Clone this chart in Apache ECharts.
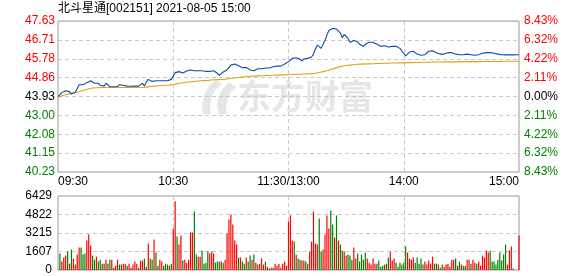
<!DOCTYPE html>
<html>
<head>
<meta charset="utf-8">
<script src="https://cdn.jsdelivr.net/npm/echarts@6/dist/echarts.min.js"></script>
<style>html,body{margin:0;padding:0;background:#fff}#c{width:578px;height:276px}</style>
</head>
<body>
<div id="c"></div>
<script>
// ---- data ----
const titleText = '北斗星通[002151] 2021-08-05 15:00';
const preClose = 43.93;
const maxPct = 8.43;
const priceTickLabels = ['40.23','41.15','42.08','43.00','43.93','44.86','45.78','46.71','47.63'];
const pctTickLabels = ['8.43%','6.32%','4.22%','2.11%','0.00%','2.11%','4.22%','6.32%','8.43%'];
const volTickLabels = ['0','1607','3215','4822','6429'];
const volMax = 6429;
const timeTickLabels = {0:'09:30',60:'10:30',120:'11:30/13:00',180:'14:00',240:'15:00'};

const price = [
43.92,44.02,44.12,44.18,44.21,44.14,44.17,44.05,44.12,44.14,
44.17,44.51,44.44,44.51,44.54,44.61,44.70,44.70,44.70,44.58,
44.54,44.58,44.48,44.41,44.44,44.58,44.51,44.41,44.38,44.41,
44.49,44.41,44.51,44.58,44.48,44.41,44.44,44.44,44.43,44.44,
44.44,44.45,44.44,44.51,44.58,44.44,44.64,44.77,44.70,44.67,
44.74,44.70,44.71,44.70,44.70,44.70,44.71,44.70,44.70,44.77,
44.93,45.10,45.15,45.15,45.10,45.08,45.13,45.18,45.21,45.23,
45.19,45.19,45.26,45.19,45.16,45.19,45.10,45.16,45.10,45.16,
45.19,45.19,45.13,45.07,44.97,45.03,45.13,45.19,45.23,45.36,
45.47,45.51,45.52,45.50,45.44,45.39,45.34,45.31,45.36,45.29,
45.23,45.26,45.19,45.26,45.29,45.26,45.29,45.38,45.33,45.42,
45.33,45.39,45.39,45.42,45.42,45.42,45.42,45.46,45.52,45.57,
45.64,45.73,45.80,45.87,45.83,45.87,45.77,45.67,45.77,45.80,
45.80,45.77,45.87,46.01,46.26,46.45,46.39,46.29,46.49,46.68,
46.94,47.17,47.20,47.27,47.34,47.24,47.17,47.04,46.81,46.98,
46.94,46.78,46.59,46.52,46.68,46.59,46.62,46.49,46.42,46.39,
46.49,46.55,46.59,46.62,46.59,46.55,46.49,46.42,46.39,46.39,
46.42,46.39,46.36,46.36,46.39,46.39,46.39,46.36,46.29,46.16,
46.04,45.92,46.01,46.11,46.17,46.15,46.08,46.01,45.98,45.95,
45.92,45.98,46.05,46.15,46.17,46.17,46.08,46.08,46.05,46.01,
46.01,46.01,46.05,46.08,46.08,46.08,46.05,46.01,45.98,45.98,
45.95,45.98,45.98,46.01,45.98,45.98,45.98,45.95,45.98,45.98,
46.01,46.05,46.08,46.08,46.08,46.08,46.05,46.05,46.01,46.01,
45.98,45.98,45.98,45.97,45.98,45.98,45.98,45.97,45.98,45.98,
45.98];

const avgPrice = [
43.90,43.93,43.96,43.99,44.02,44.04,44.06,44.08,44.10,44.12,
44.14,44.17,44.20,44.22,44.25,44.28,44.31,44.33,44.35,44.36,
44.36,44.37,44.37,44.37,44.37,44.37,44.37,44.37,44.37,44.37,
44.37,44.37,44.37,44.37,44.37,44.37,44.37,44.37,44.37,44.37,
44.37,44.37,44.37,44.37,44.37,44.38,44.39,44.41,44.42,44.43,
44.44,44.44,44.45,44.46,44.47,44.47,44.48,44.48,44.49,44.50,
44.52,44.54,44.56,44.57,44.59,44.60,44.61,44.63,44.64,44.65,
44.66,44.67,44.68,44.69,44.70,44.70,44.71,44.72,44.72,44.73,
44.74,44.74,44.75,44.76,44.76,44.77,44.77,44.78,44.79,44.80,
44.81,44.82,44.84,44.85,44.86,44.87,44.88,44.89,44.90,44.91,
44.92,44.93,44.93,44.94,44.94,44.95,44.95,44.95,44.96,44.96,
44.96,44.97,44.97,44.97,44.98,44.98,44.98,44.98,44.99,44.99,
45.00,45.00,45.01,45.01,45.02,45.02,45.02,45.03,45.03,45.03,
45.04,45.04,45.05,45.06,45.07,45.09,45.11,45.13,45.15,45.17,
45.19,45.22,45.25,45.28,45.31,45.34,45.37,45.39,45.41,45.43,
45.45,45.46,45.47,45.48,45.49,45.50,45.51,45.51,45.52,45.52,
45.53,45.53,45.53,45.54,45.54,45.54,45.55,45.55,45.55,45.56,
45.56,45.56,45.56,45.57,45.57,45.57,45.57,45.58,45.58,45.58,
45.58,45.59,45.59,45.59,45.59,45.60,45.60,45.60,45.60,45.60,
45.61,45.61,45.61,45.61,45.61,45.62,45.62,45.62,45.62,45.62,
45.62,45.62,45.63,45.63,45.63,45.63,45.63,45.63,45.63,45.63,
45.64,45.64,45.64,45.64,45.64,45.64,45.64,45.64,45.64,45.64,
45.64,45.65,45.65,45.65,45.65,45.65,45.65,45.65,45.65,45.65,
45.65,45.66,45.66,45.66,45.66,45.66,45.66,45.66,45.66,45.66,
45.66];

const volume = [
0,1430,730,1080,1250,1600,550,1775,990,470,
1340,1950,1950,1340,1430,2560,3085,2120,1250,900,
1160,730,900,550,550,900,550,900,900,200,
380,900,470,470,550,550,380,550,200,470,
730,550,200,815,815,990,290,2300,990,900,
2650,1510,380,900,730,380,550,470,380,550,
3610,5965,2910,2210,3000,815,900,640,900,3260,
3260,5090,1340,1160,1160,1690,550,640,1600,1430,
1600,1430,640,730,730,730,640,900,3170,4390,
4830,3960,2560,2210,1080,1080,730,550,1080,730,
1250,900,1340,640,470,550,990,470,730,290,
120,200,200,550,380,550,200,550,730,380,
4220,4740,2560,2470,1340,990,900,815,815,730,
550,1600,2470,5090,2300,2210,4480,1600,1775,3085,
4740,3610,5180,3960,2820,4740,2560,2210,1690,1600,
1250,1340,1250,900,1950,990,1430,730,1340,900,
1510,990,640,470,990,550,550,815,290,380,
470,550,1080,1600,815,990,640,290,640,470,
640,2040,1510,990,900,1080,640,1080,550,990,
470,730,470,815,550,1160,550,550,470,200,
470,290,470,550,290,900,900,990,380,730,
470,380,380,900,900,550,900,640,550,730,
380,1250,1080,1690,1510,1690,730,730,470,900,
1510,815,1340,2210,470,1690,2040,120,0,0,
3000];

// 1 = up (red), -1 = down (green)
const volumeDir = [
1,-1,1,1,1,-1,1,-1,1,1,
1,1,-1,-1,-1,1,1,1,-1,-1,
1,-1,-1,-1,1,1,-1,-1,1,1,
1,1,-1,-1,1,1,-1,1,1,1,
1,1,-1,1,1,-1,1,1,-1,-1,
1,-1,-1,1,1,-1,-1,-1,1,-1,
1,1,-1,1,1,-1,1,1,1,1,
1,-1,-1,1,1,-1,-1,-1,-1,1,
1,1,-1,-1,-1,1,-1,1,1,1,
1,1,1,1,-1,1,-1,-1,1,-1,
-1,1,-1,1,-1,1,1,1,-1,1,
-1,1,-1,1,1,1,1,1,1,1,
1,1,1,-1,1,-1,-1,1,1,-1,
-1,1,1,1,1,1,-1,-1,1,1,
1,1,-1,-1,1,-1,1,-1,-1,1,
1,-1,-1,-1,1,1,-1,-1,-1,-1,
-1,1,1,1,1,1,-1,-1,-1,-1,
1,-1,-1,1,1,1,-1,-1,-1,-1,
-1,-1,1,1,1,1,-1,-1,-1,-1,
-1,1,1,1,1,1,-1,-1,1,-1,
-1,1,1,1,1,1,1,-1,-1,-1,
1,-1,-1,1,1,-1,1,1,-1,1,
1,1,1,1,1,-1,-1,-1,-1,-1,
-1,-1,-1,-1,1,1,1,1,1,1,
1];

// ---- build ----
const times = [];
function pad(n){return (n<10?'0':'')+n;}
for (let m = 0; m <= 120; m++) { const t = 9*60+30+m; times.push(pad(Math.floor(t/60))+':'+pad(t%60)); }
for (let m = 1; m <= 120; m++) { const t = 13*60+m; times.push(pad(Math.floor(t/60))+':'+pad(t%60)); }

const FONT = '"Liberation Sans", Arial, "Noto Sans CJK SC", sans-serif';
const RED = '#ff0000', GREEN = '#008000', BLACK = '#000000';
const pctInterval = maxPct / 4;
const tickIdx = v => Math.round((v + maxPct) / pctInterval);
const colorTag = k => k > 4 ? 'r' : (k < 4 ? 'g' : 'k');
const richColors = {
  r: {color: RED, fontSize: 12, fontFamily: FONT},
  g: {color: GREEN, fontSize: 12, fontFamily: FONT},
  k: {color: BLACK, fontSize: 12, fontFamily: FONT}
};
const dashed = {show: true, lineStyle: {color: '#c8c8c8', type: [4, 3], width: 1}};
const vSplit = i => i === 60 || i === 120 || i === 180;

const volData = volume.map((v, i) => ({value: v, itemStyle: {color: volumeDir[i] > 0 ? RED : GREEN}}));

const chart = echarts.init(document.getElementById('c'), null, {renderer: 'canvas'});
chart.setOption({
  animation: false,
  backgroundColor: '#ffffff',
  title: {text: titleText, left: 58, top: 3, padding: 0, textStyle: {fontSize: 12, fontWeight: 'normal', color: '#000', fontFamily: FONT}},
  graphic: [
    {type: 'text', x: 237, y: 79, z: -10, silent: true,
     style: {text: '东方财富', font: 'bold 34px "Noto Sans CJK SC"', fill: '#e6e6e6'}},
    {type: 'polygon', z: -10, silent: true,
     shape: {points: [[216,80],[209,86],[204,95],[202,104],[203,114],[211,114],[210,105],[212,96],[216,89],[222,84]]},
     style: {fill: '#e6e6e6'}},
    {type: 'polygon', z: -10, silent: true,
     shape: {points: [[229,82],[222,90],[218,98],[217,106],[219,114],[227,114],[226,106],[228,98],[231,92],[236,87]]},
     style: {fill: '#e6e6e6'}}
  ],
  grid: [
    {left: 58, top: 21, width: 461, height: 151, show: true, borderColor: '#999', borderWidth: 1, backgroundColor: 'transparent'},
    {left: 58, top: 196, width: 461, height: 74, show: true, borderColor: '#999', borderWidth: 1, backgroundColor: 'transparent'}
  ],
  xAxis: [
    {type: 'category', gridIndex: 0, data: times, boundaryGap: false,
     axisLine: {show: false}, axisTick: {show: false},
     axisLabel: {interval: i => timeTickLabels[i] !== undefined, margin: 4, fontSize: 12, color: '#000', fontFamily: FONT,
       formatter: (v, i) => {
         const s = timeTickLabels[i];
         if (s === undefined) return '';
         if (i === 0) return '{a|' + s + '}';
         if (i === 240) return '{b|' + s + '}';
         return s;
       },
       rich: {a: {padding: [0, 0, 0, 30], fontSize: 12, fontFamily: FONT, color: '#000'},
              b: {padding: [0, 30, 0, 0], fontSize: 12, fontFamily: FONT, color: '#000'}}},
     splitLine: {show: true, interval: vSplit, lineStyle: {color: '#c8c8c8', type: [4, 3], width: 1}}},
    {type: 'category', gridIndex: 1, data: times, boundaryGap: false,
     axisLine: {show: false}, axisTick: {show: false}, axisLabel: {show: false},
     splitLine: {show: true, interval: vSplit, lineStyle: {color: '#c8c8c8', type: [4, 3], width: 1}}}
  ],
  yAxis: [
    {type: 'value', gridIndex: 0, show: false, min: preClose * (1 - maxPct / 100), max: preClose * (1 + maxPct / 100), splitLine: {show: false}},
    {type: 'value', gridIndex: 0, position: 'left', min: -maxPct, max: maxPct, interval: pctInterval,
     axisLine: {show: false}, axisTick: {show: false}, splitLine: dashed,
     axisLabel: {margin: 3, showMinLabel: true, showMaxLabel: true, rich: richColors,
       formatter: v => { const k = tickIdx(v); return '{' + colorTag(k) + '|' + priceTickLabels[k] + '}'; }}},
    {type: 'value', gridIndex: 0, position: 'right', min: -maxPct, max: maxPct, interval: pctInterval,
     axisLine: {show: false}, axisTick: {show: false}, splitLine: {show: false},
     axisLabel: {margin: 5, showMinLabel: true, showMaxLabel: true, rich: richColors,
       formatter: v => { const k = tickIdx(v); return '{' + colorTag(k) + '|' + pctTickLabels[k] + '}'; }}},
    {type: 'value', gridIndex: 1, min: 0, max: volMax, interval: volMax / 4,
     axisLine: {show: false}, axisTick: {show: false}, splitLine: dashed,
     axisLabel: {margin: 6, fontSize: 12, color: '#000', fontFamily: FONT, showMinLabel: true, showMaxLabel: true,
       formatter: v => volTickLabels[Math.round(v / (volMax / 4))]}}
  ],
  series: [
    {type: 'line', name: 'price', xAxisIndex: 0, yAxisIndex: 0, data: price, showSymbol: false, symbol: 'none',
     lineStyle: {color: '#0b4ea2', width: 1.1}, itemStyle: {color: '#0b4ea2'}, z: 4},
    {type: 'line', name: 'avg', xAxisIndex: 0, yAxisIndex: 0, data: avgPrice, showSymbol: false, symbol: 'none',
     lineStyle: {color: '#e0a21a', width: 1.1}, itemStyle: {color: '#e0a21a'}, z: 3},
    {type: 'bar', name: 'vol', xAxisIndex: 1, yAxisIndex: 3, data: volData, barWidth: 1.2, z: 3}
  ]
});
</script>
</body>
</html>
